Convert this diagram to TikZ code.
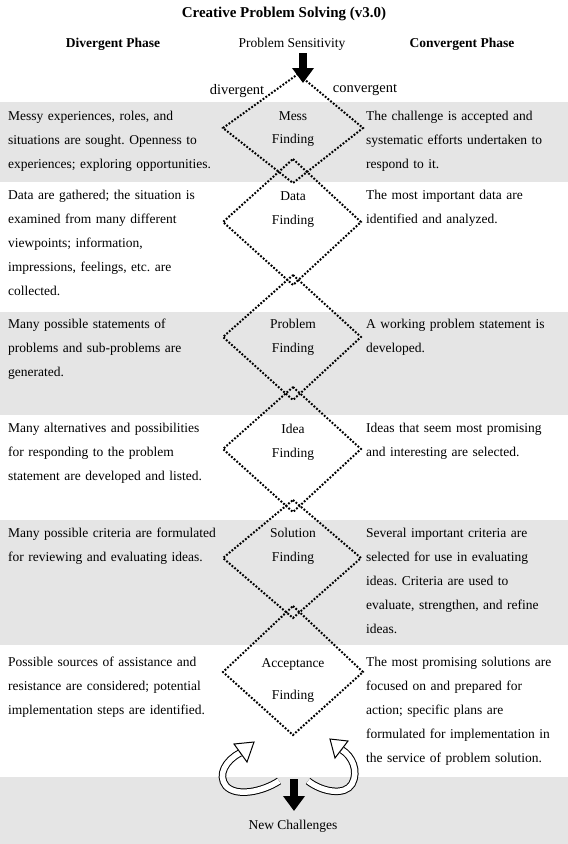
\documentclass[tikz,border=0pt]{standalone}
\usepackage{fontspec}
\setmainfont{Liberation Serif}
\usetikzlibrary{arrows.meta}
\definecolor{bandgray}{gray}{0.9}
\frenchspacing
\tikzset{
  band/.style={fill=bandgray, draw=none},
  desc/.style={anchor=base west, inner sep=0pt, text width=260pt, align=left, font=\fontsize{13.5}{24}\selectfont},
  stage/.style={anchor=base, inner sep=0pt, font=\fontsize{13.5}{16}\selectfont},
  phase/.style={anchor=base, inner sep=0pt, font=\fontsize{13.5}{16}\selectfont\bfseries},
  diam/.style={line width=2pt, dash pattern=on 1.8pt off 1.7pt},
  bigarrow/.style={line width=8pt, -{Triangle[width=21pt,length=15pt]}},
  curl/.style={line width=1pt, double=white, double distance=5.5pt},
  curlhead/.style={fill=white, draw=black, line width=1pt, line join=miter}
}
\begin{document}
\begin{tikzpicture}[x=1pt,y=-1pt]
\useasboundingbox (0,0) rectangle (568,844);
% grey rows
\fill[band] (0,102) rectangle (568,182);
\fill[band] (0,312) rectangle (568,415);
\fill[band] (0,520) rectangle (568,645);
\fill[band] (0,777) rectangle (568,844);
% heading
\node[phase, font=\fontsize{15}{16}\selectfont\bfseries] (title) at (284,17) {Creative Problem Solving (v3.0)};
\node[phase] (divphase) at (113,47) {Divergent Phase};
\node[stage] (sens) at (292,47) {Problem Sensitivity};
\node[phase] (convphase) at (462,47) {Convergent Phase};
\node[stage, font=\fontsize{14.5}{16}\selectfont] (divlabel) at (237,94) {divergent};
\node[stage, font=\fontsize{14.5}{16}\selectfont] (convlabel) at (365,92) {convergent};
% diamonds
\draw[diam] (298,74) -- (363,128) -- (293,183) -- (223,128) -- cycle;
\draw[diam] (293,159) -- (361,222) -- (293,285) -- (223,222) -- cycle;
\draw[diam] (293,275) -- (361,337) -- (293,400) -- (223,337) -- cycle;
\draw[diam] (293,387) -- (361,449) -- (293,512) -- (223,449) -- cycle;
\draw[diam] (293,500) -- (361,558) -- (293,618) -- (223,558) -- cycle;
\draw[diam] (293,606) -- (363,672) -- (293,735) -- (223,672) -- cycle;
% stage names
\node[stage] (mess) at (293,120) {Mess};
\node[stage] (messf) at (293,143) {Finding};
\node[stage] (data) at (293,200) {Data};
\node[stage] (dataf) at (293,224) {Finding};
\node[stage] (prob) at (293,328) {Problem};
\node[stage] (probf) at (293,352) {Finding};
\node[stage] (idea) at (293,433) {Idea};
\node[stage] (ideaf) at (293,457) {Finding};
\node[stage] (sol) at (293,537) {Solution};
\node[stage] (solf) at (293,561) {Finding};
\node[stage] (acc) at (293,667) {Acceptance};
\node[stage] (accf) at (293,699) {Finding};
% divergent side
\node[desc] (messdiv) at (8,120) {Messy experiences, roles, and\\ situations are sought. Openness to\\ experiences; exploring opportunities.};
\node[desc] (datadiv) at (8,199) {Data are gathered; the situation is\\ examined from many different\\ viewpoints; information,\\ impressions, feelings, etc. are\\ collected.};
\node[desc] (probdiv) at (8,328) {Many possible statements of\\ problems and sub-problems are\\ generated.};
\node[desc] (ideadiv) at (8,432) {Many alternatives and possibilities\\ for responding to the problem\\ statement are developed and listed.};
\node[desc] (soldiv) at (8,537) {Many possible criteria are formulated\\ for reviewing and evaluating ideas.};
\node[desc] (accdiv) at (8,666) {Possible sources of assistance and\\ resistance are considered; potential\\ implementation steps are identified.};
% convergent side
\node[desc] (messconv) at (366,120) {The challenge is accepted and\\ systematic efforts undertaken to\\ respond to it.};
\node[desc] (dataconv) at (366,199) {The most important data are\\ identified and analyzed.};
\node[desc] (probconv) at (366,328) {A working problem statement is\\ developed.};
\node[desc] (ideaconv) at (366,432) {Ideas that seem most promising\\ and interesting are selected.};
\node[desc] (solconv) at (366,537) {Several important criteria are\\ selected for use in evaluating\\ ideas. Criteria are used to\\ evaluate, strengthen, and refine\\ ideas.};
\node[desc] (accconv) at (366,666) {The most promising solutions are\\ focused on and prepared for\\ action; specific plans are\\ formulated for implementation in\\ the service of problem solution.};
% in and out
\coordinate (inTop) at (303,53);
\coordinate (inEnd) at (303,83);
\draw[bigarrow] (inTop) -- (inEnd);
\node[stage] (newch) at (293,829) {New Challenges};
\coordinate (outTop) at (294,779);
\draw[bigarrow] (outTop) -- (outTop |- 0,811);
% loops back
\draw[curl] (279,781) .. controls (262,792) and (236,797) .. (226,786) .. controls (217,775) and (226,760) .. (240,753);
\draw[curlhead] (234,744) -- (254,742) -- (247,762) -- cycle;
\draw[curl] (308,781) .. controls (322,792) and (345,796) .. (352,784) .. controls (359,771) and (352,756) .. (342,750);
\draw[curlhead] (348,741) -- (330,739) -- (335,758) -- cycle;
\end{tikzpicture}
\end{document}
